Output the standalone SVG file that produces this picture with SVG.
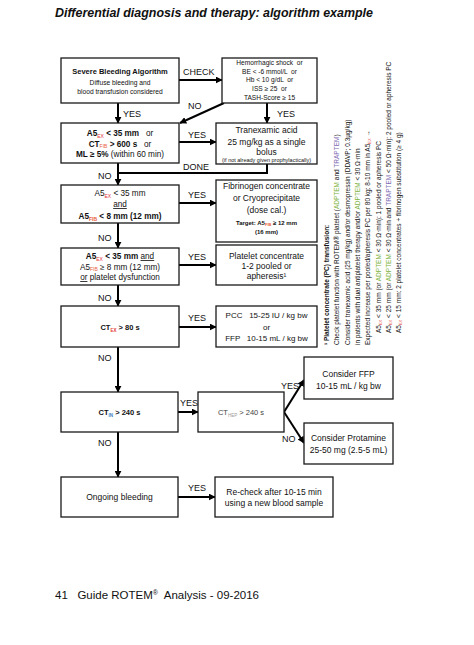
<svg xmlns="http://www.w3.org/2000/svg" width="474" height="645" viewBox="0 0 474 645">
<style>
.t{font-family:"Liberation Sans",Arial,sans-serif;fill:#111}
.box{fill:#fff;stroke:#1a1a1a;stroke-width:1.3}
.conn{stroke:#000;stroke-width:2;fill:none}
.lbl{font-size:9px}
.s7{font-size:7.5px}
.s75{font-size:8.2px}
.s8{font-size:8.5px}
.b{font-weight:bold}
.ex{fill:#e3342f}
.fib{fill:#e8603c}
.in{fill:#3b7fc4}
.hep{fill:#9a9a9a}
.adp{fill:#7db33c}
.trap{fill:#7d6bb3}
.fn{font-size:6.5px}
.u{text-decoration:underline}
</style>
<defs>
<marker id="ah" viewBox="0 0 10 10" refX="9" refY="5" markerWidth="7" markerHeight="7" markerUnits="userSpaceOnUse" orient="auto"><path d="M0,0 L10,5 L0,10 z" fill="#000"/></marker>
</defs>
<rect width="474" height="645" fill="#fff"/>
<text class="t b" x="55" y="17" font-size="12.3" font-style="italic" textLength="318" lengthAdjust="spacingAndGlyphs">Differential diagnosis and therapy: algorithm example</text>

<g id="connectors">
<line class="conn" x1="179" y1="80" x2="222" y2="80" marker-end="url(#ah)"/>
<line class="conn" x1="224" y1="103" x2="180" y2="123" marker-end="url(#ah)"/>
<line class="conn" x1="118" y1="103" x2="118" y2="123" marker-end="url(#ah)"/>
<line class="conn" x1="267" y1="103" x2="267" y2="123" marker-end="url(#ah)"/>
<line class="conn" x1="179" y1="142" x2="216" y2="142" marker-end="url(#ah)"/>
<polyline class="conn" points="267,164 267,173 118,173"/>
<line class="conn" x1="118" y1="163" x2="118" y2="185" marker-end="url(#ah)"/>
<line class="conn" x1="179" y1="203" x2="216" y2="203" marker-end="url(#ah)"/>
<line class="conn" x1="118" y1="223" x2="118" y2="248" marker-end="url(#ah)"/>
<line class="conn" x1="179" y1="265" x2="216" y2="265" marker-end="url(#ah)"/>
<line class="conn" x1="118" y1="285" x2="118" y2="306" marker-end="url(#ah)"/>
<line class="conn" x1="179" y1="327" x2="216" y2="327" marker-end="url(#ah)"/>
<line class="conn" x1="118" y1="347" x2="118" y2="392" marker-end="url(#ah)"/>
<line class="conn" x1="178" y1="412" x2="198" y2="412" marker-end="url(#ah)"/>
<line class="conn" x1="284" y1="412" x2="304" y2="380" marker-end="url(#ah)"/>
<line class="conn" x1="284" y1="412" x2="304" y2="443" marker-end="url(#ah)"/>
<line class="conn" x1="118" y1="432" x2="118" y2="477" marker-end="url(#ah)"/>
<line class="conn" x1="178" y1="497" x2="215" y2="497" marker-end="url(#ah)"/>
<text class="t lbl" x="183" y="75" font-size="8.5">CHECK</text>
<text class="t lbl" x="188" y="109">NO</text>
<text class="t lbl" x="123" y="117">YES</text>
<text class="t lbl" x="277" y="117">YES</text>
<text class="t lbl" x="188" y="138">YES</text>
<text class="t lbl" x="183" y="170">DONE</text>
<text class="t lbl" x="98" y="179">NO</text>
<text class="t lbl" x="188" y="198">YES</text>
<text class="t lbl" x="98" y="241">NO</text>
<text class="t lbl" x="188" y="260">YES</text>
<text class="t lbl" x="98" y="301">NO</text>
<text class="t lbl" x="188" y="321">YES</text>
<text class="t lbl" x="98" y="361">NO</text>
<text class="t lbl" x="180" y="406">YES</text>
<text class="t lbl" x="281" y="389">YES</text>
<text class="t lbl" x="282" y="442">NO</text>
<text class="t lbl" x="98" y="446">NO</text>
<text class="t lbl" x="188" y="491">YES</text>
</g>

<g id="n1">
<rect class="box" x="61" y="58" width="118" height="45"/>
<text class="t b" x="120" y="74" font-size="7.5" text-anchor="middle">Severe Bleeding Algorithm</text>
<text class="t" x="120" y="85" font-size="6.7" text-anchor="middle">Diffuse bleeding and</text>
<text class="t" x="120" y="94" font-size="6.7" text-anchor="middle">blood transfusion considered</text>
</g>
<g id="n2">
<rect class="box" x="222" y="58" width="95" height="45"/>
<g class="t" font-size="6.6" text-anchor="middle">
<text x="269.5" y="65" xml:space="preserve">Hemorrhagic shock  or</text>
<text x="269.5" y="73.5" xml:space="preserve">BE &lt; -6 mmol/L  or</text>
<text x="269.5" y="82" xml:space="preserve">Hb &lt; 10 g/dL  or</text>
<text x="269.5" y="90.5" xml:space="preserve">ISS ≥ 25  or</text>
<text x="269.5" y="99.5">TASH-Score ≥ 15</text>
</g>
</g>
<g id="n3">
<rect class="box" x="61" y="123" width="118" height="40"/>
<text class="t s75" x="120" y="136" text-anchor="middle" xml:space="preserve"><tspan class="b">A5</tspan><tspan class="ex" font-size="5" dy="1.5">EX</tspan><tspan class="b" dy="-1.5"> &lt; 35 mm</tspan>   or</text>
<text class="t s75" x="120" y="146.5" text-anchor="middle" xml:space="preserve"><tspan class="b">CT</tspan><tspan class="fib" font-size="5" dy="1.5">FIB</tspan><tspan class="b" dy="-1.5"> &gt; 600 s</tspan>   or</text>
<text class="t s75" x="120" y="157" text-anchor="middle"><tspan class="b">ML ≥ 5%</tspan> (within 60 min)</text>
</g>
<g id="n4">
<rect class="box" x="216" y="123" width="101" height="41"/>
<text class="t s8" x="266.5" y="133" text-anchor="middle">Tranexamic acid</text>
<text class="t s8" x="266.5" y="144.5" text-anchor="middle">25 mg/kg as a single</text>
<text class="t s8" x="266.5" y="155" text-anchor="middle">bolus</text>
<text class="t" x="266.5" y="162" font-size="5.5" text-anchor="middle">(if not already given prophylactically)</text>
</g>
<g id="n5">
<rect class="box" x="61" y="185" width="118" height="38"/>
<text class="t s75" x="120" y="196" text-anchor="middle">A5<tspan class="ex" font-size="5" dy="1.5">EX</tspan><tspan dy="-1.5"> &lt; 35 mm</tspan></text>
<text class="t s75 u" x="120" y="207" text-anchor="middle">and</text>
<text class="t s75 b" x="120" y="219" text-anchor="middle">A5<tspan class="fib" font-size="5" dy="1.5">FIB</tspan><tspan dy="-1.5"> &lt; 8 mm (12 mm)</tspan></text>
</g>
<g id="n6">
<rect class="box" x="216" y="180" width="101" height="62"/>
<text class="t s8" x="266.5" y="189" text-anchor="middle">Fibrinogen concentrate</text>
<text class="t s8" x="266.5" y="201" text-anchor="middle">or Cryoprecipitate</text>
<text class="t s8" x="266.5" y="213" text-anchor="middle">(dose cal.)</text>
<text class="t b" x="266.5" y="225" font-size="6" text-anchor="middle">Target: A5<tspan class="fib" font-size="4" dy="1.3">FIB</tspan><tspan dy="-1.3"> ≥ 12 mm</tspan></text>
<text class="t b" x="266.5" y="234" font-size="6" text-anchor="middle">(16 mm)</text>
</g>
<g id="n7">
<rect class="box" x="61" y="248" width="118" height="37"/>
<text class="t s75" x="120" y="259" text-anchor="middle"><tspan class="b">A5</tspan><tspan class="ex" font-size="5" dy="1.5">EX</tspan><tspan class="b" dy="-1.5"> &lt; 35 mm </tspan><tspan class="u">and</tspan></text>
<text class="t s75" x="120" y="269.5" text-anchor="middle">A5<tspan class="fib" font-size="5" dy="1.5">FIB</tspan><tspan dy="-1.5"> ≥ 8 mm (12 mm)</tspan></text>
<text class="t s75" x="120" y="280" text-anchor="middle"><tspan class="u">or</tspan> platelet dysfunction</text>
</g>
<g id="n8">
<rect class="box" x="216" y="245" width="101" height="40"/>
<text class="t s8" x="266.5" y="258.5" text-anchor="middle">Platelet concentrate</text>
<text class="t s8" x="266.5" y="268.5" text-anchor="middle">1-2 pooled or</text>
<text class="t s8" x="266.5" y="279" text-anchor="middle">apheresis¹</text>
</g>
<g id="n9">
<rect class="box" x="61" y="306" width="118" height="41"/>
<text class="t s7 b" x="120" y="330" text-anchor="middle">CT<tspan class="ex" font-size="4.5" dy="1.5">EX</tspan><tspan dy="-1.5"> &gt; 80 s</tspan></text>
</g>
<g id="n10">
<rect class="box" x="216" y="306" width="101" height="41"/>
<text class="t" x="266.5" y="318" font-size="8" text-anchor="middle" xml:space="preserve">PCC   15-25 IU / kg bw</text>
<text class="t" x="266.5" y="330" font-size="8" text-anchor="middle">or</text>
<text class="t" x="266.5" y="341" font-size="8" text-anchor="middle" xml:space="preserve">FFP   10-15 mL / kg bw</text>
</g>
<g id="n11">
<rect class="box" x="61" y="392" width="117" height="40"/>
<text class="t s7 b" x="119.5" y="415" text-anchor="middle">CT<tspan class="in" font-size="4.5" dy="1.5">IN</tspan><tspan dy="-1.5"> &gt; 240 s</tspan></text>
</g>
<g id="n12">
<rect class="box" x="198" y="392" width="86" height="40"/>
<text class="t s7" x="241" y="415" text-anchor="middle" style="fill:#444">CT<tspan class="hep" font-size="4.5" dy="1.5">HEP</tspan><tspan dy="-1.5"> &gt; 240 s</tspan></text>
</g>
<g id="n13">
<rect class="box" x="304" y="357" width="89" height="42"/>
<text class="t s8" x="348.5" y="377" text-anchor="middle">Consider FFP</text>
<text class="t s8" x="348.5" y="388.5" text-anchor="middle">10-15 mL / kg bw</text>
</g>
<g id="n14">
<rect class="box" x="304" y="423" width="89" height="41"/>
<text class="t s8" x="348.5" y="441" text-anchor="middle">Consider Protamine</text>
<text class="t s8" x="348.5" y="453" text-anchor="middle">25-50 mg (2.5-5 mL)</text>
</g>
<g id="n15">
<rect class="box" x="61" y="477" width="117" height="40"/>
<text class="t s8" x="119.5" y="500" text-anchor="middle">Ongoing bleeding</text>
</g>
<g id="n16">
<rect class="box" x="215" y="477" width="118" height="40"/>
<text class="t s8" x="274" y="495" text-anchor="middle">Re-check after 10-15 min</text>
<text class="t s8" x="274" y="506" text-anchor="middle">using a new blood sample</text>
</g>

<g id="footnote" transform="rotate(-90)" class="t fn">
<text x="-345" y="328.5" class="b">¹ Platelet concentrate (PC) transfusion:</text>
<text x="-345" y="339">Check platelet function with ROTEM® platelet (<tspan class="adp">ADPTEM</tspan> and <tspan class="trap">TRAPTEM</tspan>)</text>
<text x="-345" y="349.5">Consider tranexamic acid (25 mg/kg) and/or desmopressin (DDAVP; 0.3µg/kg)</text>
<text x="-345" y="359.5">in patients with dual antiplatelet therapy and/or <tspan class="adp">ADPTEM</tspan> &lt; 30 Ω·min</text>
<text x="-345" y="370">Expected increase per pooled/apheresis PC per 80 kg: 8-10 mm in A5<tspan class="ex" font-size="4" dy="1.3">EX</tspan><tspan dy="-1.3">  →</tspan></text>
<text x="-333" y="380.5">A5<tspan class="ex" font-size="4" dy="1.3">EX</tspan><tspan dy="-1.3"> &lt; 35 mm (or </tspan><tspan class="adp">ADPTEM</tspan> &lt; 30 Ω·min): 1 pooled or apheresis PC</text>
<text x="-333" y="390.5">A5<tspan class="ex" font-size="4" dy="1.3">EX</tspan><tspan dy="-1.3"> &lt; 25 mm (or </tspan><tspan class="adp">ADPTEM</tspan> &lt; 30 Ω·min and <tspan class="trap">TRAPTEM</tspan> &lt; 50 Ω·min): 2 pooled or apheresis PC</text>
<text x="-333" y="401">A5<tspan class="ex" font-size="4" dy="1.3">EX</tspan><tspan dy="-1.3"> &lt; 15 mm: 2 platelet concentrates + fibrinogen substitution (≥ 4 g)</tspan></text>
</g>

<text class="t" x="55" y="599" font-size="11.5" xml:space="preserve">41   Guide ROTEM<tspan font-size="7" dy="-4.5">®</tspan><tspan dy="4.5">  Analysis - 09-2016</tspan></text>
</svg>
